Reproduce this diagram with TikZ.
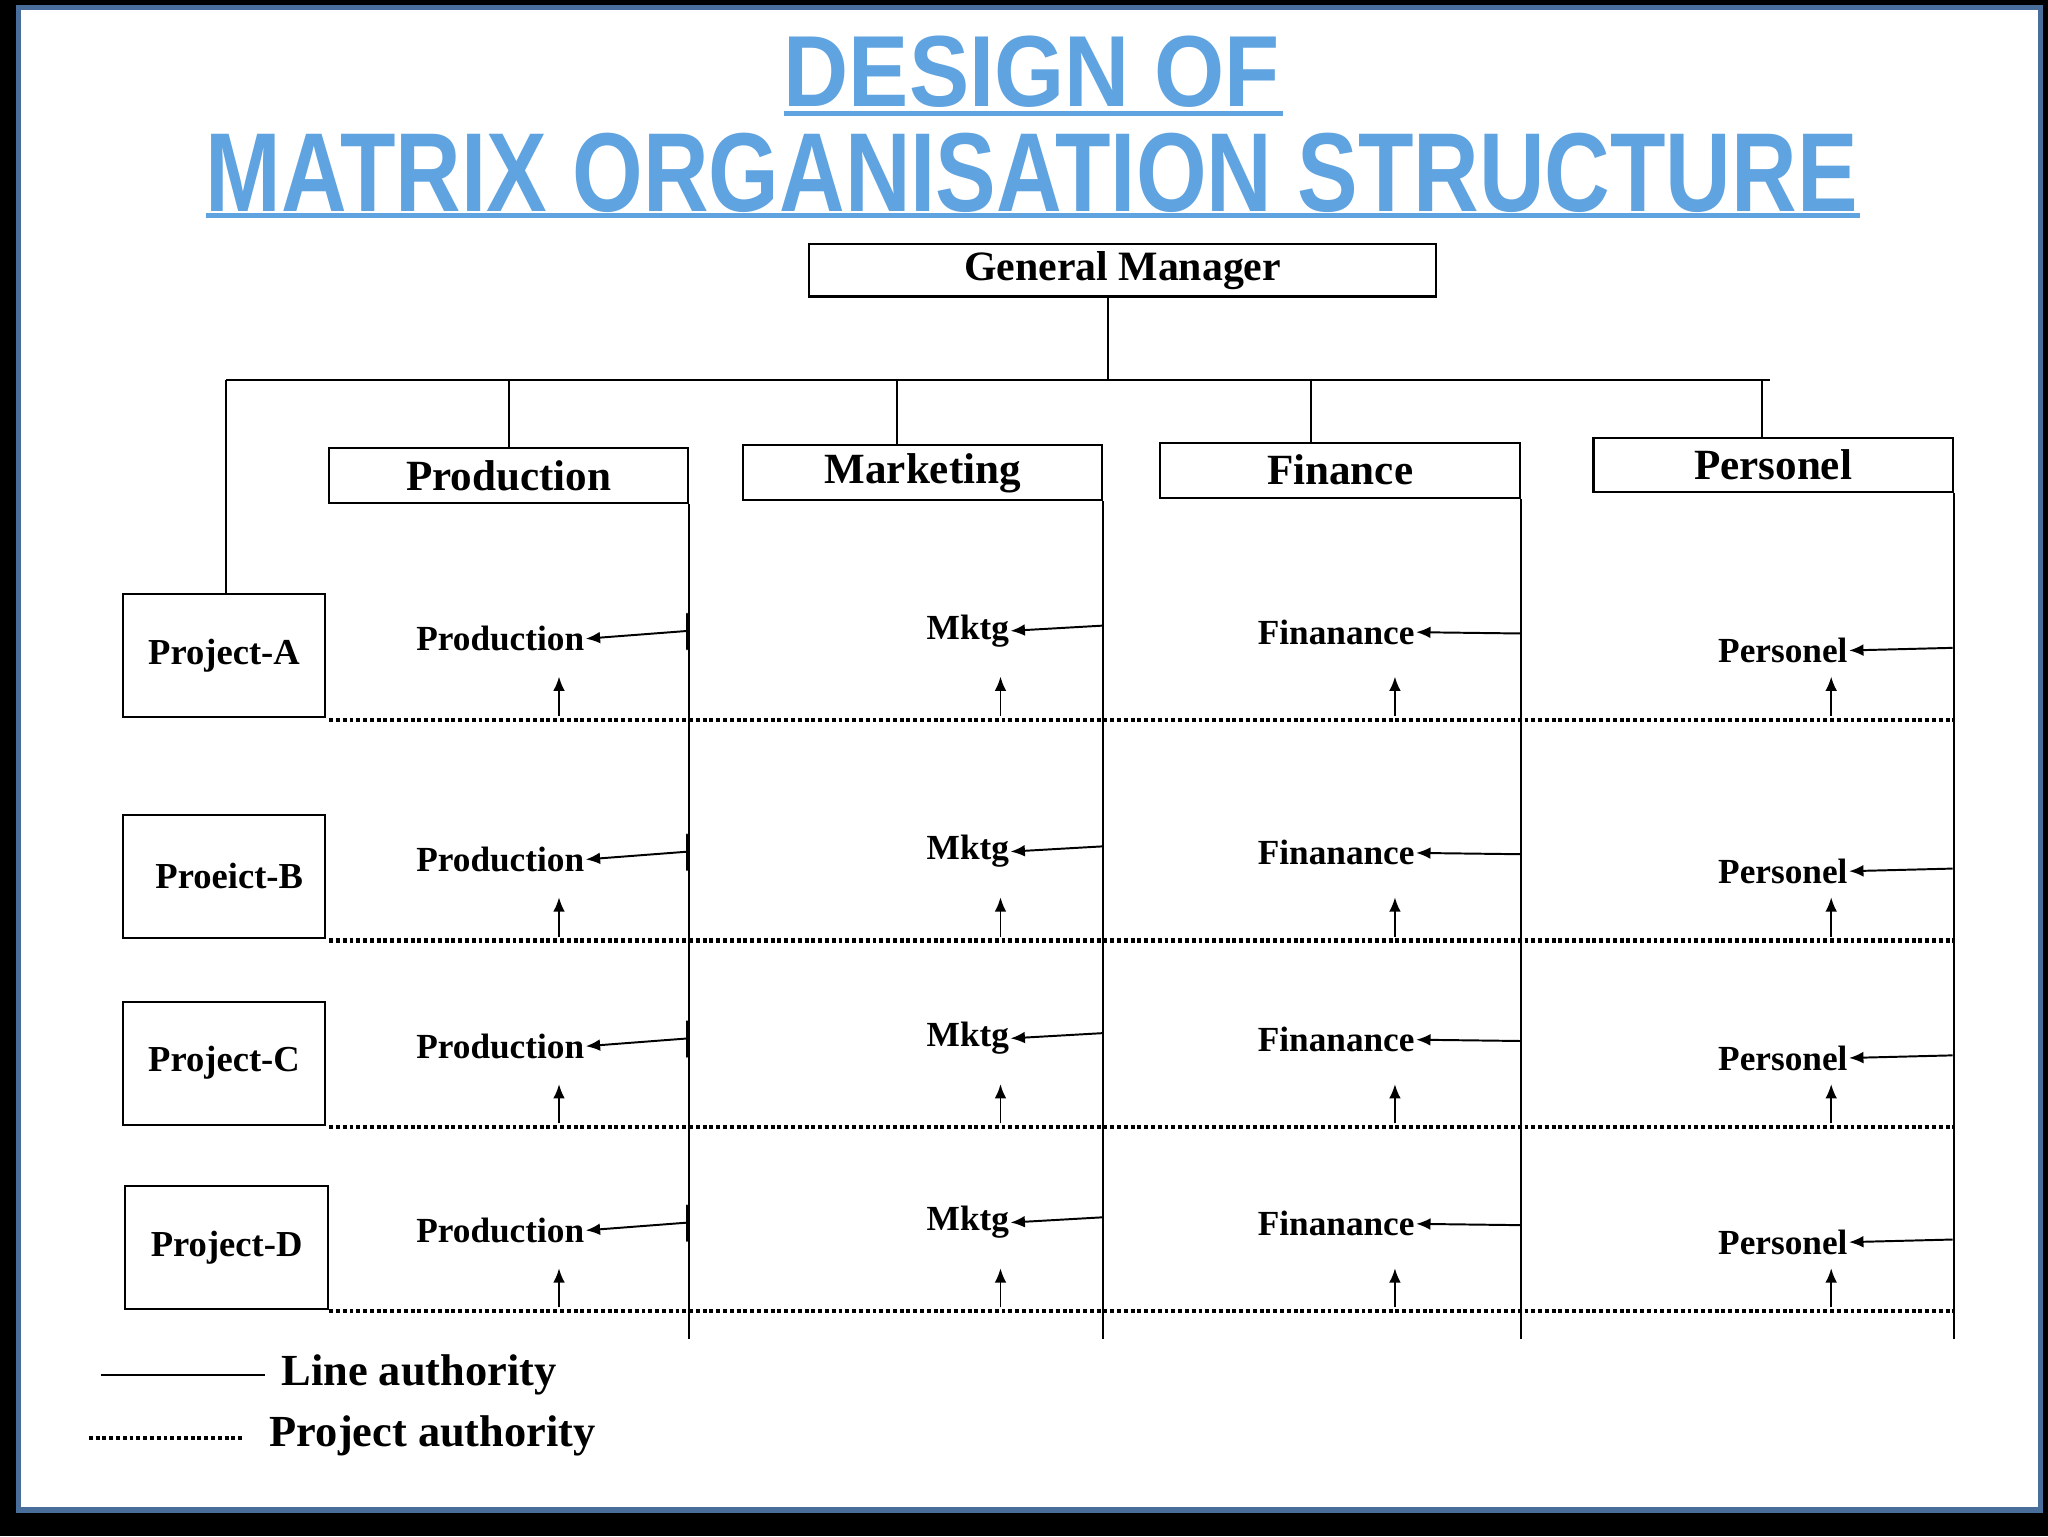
\documentclass[tikz,border=0pt]{standalone}
\usepackage{fontspec}
\setmainfont{Liberation Serif}
\newfontfamily\titlefont{Liberation Sans}
\usetikzlibrary{arrows.meta}
\definecolor{ttl}{HTML}{5FA3E0}
\definecolor{ttlo}{HTML}{3A78C0}
\definecolor{frm}{HTML}{4A6E9C}
\tikzset{
  box/.style={draw,line width=1.6pt,inner sep=0pt},
  lab/.style={font=\fontsize{27}{30}\selectfont\bfseries,inner sep=1pt},
  dept/.style={box,font=\fontsize{33}{36}\selectfont\bfseries},
  ln/.style={line width=1.5pt},
  proj/.style={line width=3.2pt,dash pattern=on 3pt off 2.2pt},
  arr/.style={line width=1.5pt,-{Latex[length=11pt,width=9pt]}}
}
\begin{document}
\begin{tikzpicture}[x=1pt,y=-1pt]
\fill[black] (0,0) rectangle (1568,1176);
\fill[white] (14,6) rectangle (1562,1156);
\draw[frm,line width=4pt] (14,6) rectangle (1562,1156);
% title
\node[text=ttl,font=\titlefont\bfseries] (t1) at (790,55) {\resizebox{380pt}{54pt}{DESIGN OF}};
\draw[ttl,line width=4pt] (600,87) -- (982,87);
\node[text=ttl,font=\titlefont\bfseries] (t2) at (790,132) {\resizebox{1264pt}{60pt}{MATRIX ORGANISATION STRUCTURE}};
\draw[ttl,line width=4pt] (158,165) -- (1424,165);
% general manager
\node[box,minimum width=480pt,minimum height=40pt,font=\fontsize{32}{34}\selectfont\bfseries] (gm) at (859.5,207) {General Manager};
\coordinate (hub) at (848,291);
\draw[ln] (gm.south -| hub) -- (hub);
\draw[ln] (173,291) -- (1355,291);
% departments
\node[dept,minimum width=275pt,minimum height=42pt] (pro) at (389.5,364) {Production};
\node[dept,minimum width=275pt,minimum height=42pt] (mkt) at (706.5,362) {Marketing};
\node[dept,minimum width=276pt,minimum height=42pt] (fin) at (1026,360) {Finance};
\node[dept,minimum width=275pt,minimum height=42pt] (per) at (1357.5,356) {Personel};
\draw[ln] (390,291) -- (390,0 |- pro.north);
\draw[ln] (687,291) -- (687,0 |- mkt.north);
\draw[ln] (1004,291) -- (1004,0 |- fin.north);
\draw[ln] (1349,291) -- (1349,0 |- per.north);
\foreach \d in {pro,mkt,fin,per}{
  \coordinate (\d-end) at (\d.south east |- 0,1025);
  \draw[ln] (\d.south east) -- (\d-end);
}
% projects
\node[box,minimum width=155pt,minimum height=94pt,font=\fontsize{28}{30}\selectfont\bfseries] (pa) at (171.5,502) {Project-A};
\node[box,minimum width=155pt,minimum height=94pt,font=\fontsize{28}{30}\selectfont\bfseries] (pb) at (171.5,671) {\hspace*{8pt}Proeict-B};
\node[box,minimum width=155pt,minimum height=94pt,font=\fontsize{28}{30}\selectfont\bfseries] (pc) at (171.5,814) {Project-C};
\node[box,minimum width=155pt,minimum height=94pt,font=\fontsize{28}{30}\selectfont\bfseries] (pd) at (173.5,955) {Project-D};
\draw[ln] (173,291) -- (pa.north -| 173,0);
\foreach \p/\o in {pa/0,pb/169,pc/312,pd/453}{
  \draw[proj] (252,551+\o) -- (1496,551+\o);
  \node[lab] (\p-l1) at (383,489+\o) {Production};
  \node[lab] (\p-l2) at (741,483+\o) {Mktg};
  \node[lab] (\p-l3) at (1023,484+\o) {Finanance};
  \node[lab] (\p-l4) at (1365,498+\o) {Personel};
  \draw[arr] (527,483+\o) -- (\p-l1.east);
  \draw[arr] (844,479+\o) -- (\p-l2.east);
  \draw[arr] (1164,485+\o) -- (\p-l3.east);
  \draw[arr] (1495,496+\o) -- (\p-l4.east);
  \draw[line width=2pt,line cap=round] (526,470+\o) -- (526,497+\o);
  \foreach \x in {428,766,1068,1402}{
    \draw[arr] (\x,548+\o) -- (\x,518+\o);
  }
}
% legend
\draw[ln] (77,1053) -- (203,1053);
\node[anchor=west,font=\fontsize{34}{36}\selectfont\bfseries] (la) at (212,1053) {Line authority};
\draw[proj] (68,1101) -- (187,1101);
\node[anchor=west,font=\fontsize{34}{36}\selectfont\bfseries] (pa2) at (203,1099) {Project authority};
\end{tikzpicture}
\end{document}
